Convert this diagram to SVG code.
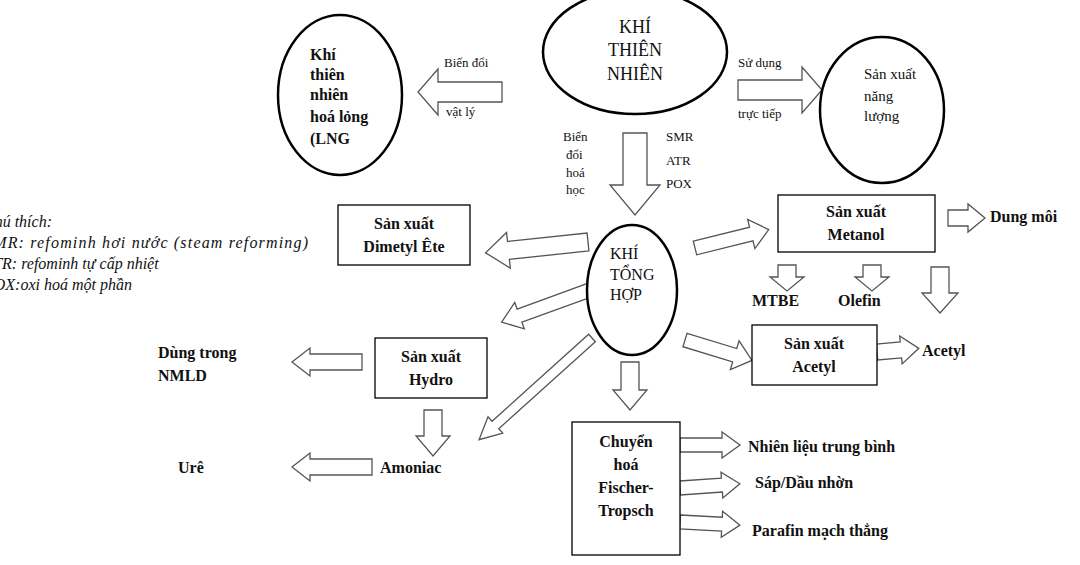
<svg xmlns="http://www.w3.org/2000/svg" width="1080" height="565" viewBox="0 0 1080 565">
<style>
.n{fill:#fff;stroke:#000;stroke-width:2.5}
.b{fill:#fff;stroke:#000;stroke-width:1.3}
.a{fill:#fff;stroke:#555;stroke-width:1.3}
text{font-family:"Liberation Serif","DejaVu Serif",serif;fill:#111}
.t{font-size:16px;font-weight:bold}
.s{font-size:13px}
.i{font-size:16px;font-style:italic}
</style>
<rect width="1080" height="565" fill="#fff"/>
<g id="connectors">
<polygon class="a" transform="translate(502,92) rotate(180)" points="0,-10 64,-10 64,-23 84,0 64,23 64,10 0,10"/>
<polygon class="a" transform="translate(738,90)" points="0,-10 64,-10 64,-23 84,0 64,23 64,10 0,10"/>
<polygon class="a" transform="translate(635,133) rotate(90)" points="0,-12 52,-12 52,-25 82,0 52,25 52,12 0,12"/>
<polygon class="a" transform="translate(588,242) rotate(174)" points="0,-9 80,-9 80,-18 103,0 80,18 80,9 0,9"/>
<polygon class="a" transform="translate(695,248) rotate(-14)" points="0,-7 58,-7 58,-15 76,0 58,15 58,7 0,7"/>
<polygon class="a" transform="translate(590,290) rotate(160)" points="0,-7 75,-7 75,-14 94,0 75,14 75,7 0,7"/>
<polygon class="a" transform="translate(685,340) rotate(17)" points="0,-7 52,-7 52,-15 70,0 52,15 52,7 0,7"/>
<polygon class="a" transform="translate(630,362) rotate(90)" points="0,-9 28,-9 28,-17 48,0 28,17 28,9 0,9"/>
<polygon class="a" transform="translate(592,338) rotate(138)" points="0,-5 130,-5 130,-11 152,0 130,11 130,5 0,5"/>
<polygon class="a" transform="translate(948,218)" points="0,-8 20,-8 20,-14 37,0 20,14 20,8 0,8"/>
<polygon class="a" transform="translate(787,265) rotate(90)" points="0,-9 12,-9 12,-17 26,0 12,17 12,9 0,9"/>
<polygon class="a" transform="translate(872,265) rotate(90)" points="0,-9 12,-9 12,-17 26,0 12,17 12,9 0,9"/>
<polygon class="a" transform="translate(940,267) rotate(90)" points="0,-9 26,-9 26,-18 46,0 26,18 26,9 0,9"/>
<polygon class="a" transform="translate(877,352) rotate(-5)" points="0,-8 24,-8 24,-14 42,0 24,14 24,8 0,8"/>
<polygon class="a" transform="translate(362,362) rotate(180)" points="0,-8 52,-8 52,-14 70,0 52,14 52,8 0,8"/>
<polygon class="a" transform="translate(433,410) rotate(90)" points="0,-9 26,-9 26,-17 46,0 26,17 26,9 0,9"/>
<polygon class="a" transform="translate(372,467) rotate(180)" points="0,-8 62,-8 62,-14 80,0 62,14 62,8 0,8"/>
<polygon class="a" transform="translate(680,445)" points="0,-7 42,-7 42,-13 60,0 42,13 42,7 0,7"/>
<polygon class="a" transform="translate(680,488) rotate(-4)" points="0,-7 42,-7 42,-13 60,0 42,13 42,7 0,7"/>
<polygon class="a" transform="translate(680,522) rotate(3)" points="0,-7 42,-7 42,-13 60,0 42,13 42,7 0,7"/>
<text class="s" x="444" y="67">Biến đổi</text>
<text class="s" x="446" y="116">vật lý</text>
<text class="s" x="738" y="67">Sử dụng</text>
<text class="s" x="738" y="118">trực tiếp</text>
<text class="s" x="563" y="141">Biến</text>
<text class="s" x="566" y="159">đổi</text>
<text class="s" x="566" y="177">hoá</text>
<text class="s" x="566" y="194">học</text>
<text class="s" x="666" y="141">SMR</text>
<text class="s" x="666" y="165">ATR</text>
<text class="s" x="666" y="188">POX</text>
</g>
<g id="ktn"><ellipse class="n" cx="635" cy="52" rx="92" ry="62"/>
<text x="635" y="33" text-anchor="middle" font-size="18">KHÍ</text>
<text x="635" y="56" text-anchor="middle" font-size="18">THIÊN</text>
<text x="635" y="80" text-anchor="middle" font-size="18">NHIÊN</text></g>
<g id="lng"><ellipse class="n" cx="340" cy="95" rx="62" ry="80"/>
<text class="t" x="310" y="60">Khí</text><text class="t" x="310" y="80">thiên</text><text class="t" x="310" y="100">nhiên</text><text class="t" x="310" y="122">hoá lỏng</text><text class="t" x="310" y="144">(LNG</text></g>
<g id="nl"><ellipse class="n" cx="882" cy="110" rx="62" ry="73"/>
<text x="864" y="79" font-size="15">Sản xuất</text><text x="864" y="101" font-size="15">năng</text><text x="864" y="121" font-size="15">lượng</text></g>
<g id="kth"><ellipse class="n" cx="632" cy="290" rx="45" ry="65"/>
<text x="610" y="259" font-size="16">KHÍ</text><text x="610" y="280" font-size="16">TỔNG</text><text x="610" y="300" font-size="16">HỢP</text></g>
<g id="dme"><rect class="b" x="338" y="205" width="132" height="60"/>
<text class="t" x="404" y="229" text-anchor="middle">Sản xuất</text><text class="t" x="404" y="252" text-anchor="middle">Dimetyl Ête</text></g>
<g id="metanol"><rect class="b" x="778" y="195" width="157" height="57"/>
<text class="t" x="856" y="217" text-anchor="middle">Sản xuất</text><text class="t" x="856" y="240" text-anchor="middle">Metanol</text></g>
<g id="acetylbox"><rect class="b" x="752" y="325" width="125" height="60"/>
<text class="t" x="814" y="349" text-anchor="middle">Sản xuất</text><text class="t" x="814" y="372" text-anchor="middle">Acetyl</text></g>
<g id="hydro"><rect class="b" x="375" y="338" width="112" height="60"/>
<text class="t" x="431" y="362" text-anchor="middle">Sản xuất</text><text class="t" x="431" y="385" text-anchor="middle">Hydro</text></g>
<g id="ft"><rect class="b" x="572" y="422" width="108" height="133"/>
<text class="t" x="626" y="447" text-anchor="middle">Chuyển</text><text class="t" x="626" y="470" text-anchor="middle">hoá</text><text class="t" x="626" y="493" text-anchor="middle">Fischer-</text><text class="t" x="626" y="516" text-anchor="middle">Tropsch</text></g>
<g id="labels">
<text class="t" x="990" y="222">Dung môi</text>
<text class="t" x="752" y="306">MTBE</text>
<text class="t" x="838" y="306">Olefin</text>
<text class="t" x="922" y="356">Acetyl</text>
<text class="t" x="158" y="358">Dùng  trong</text>
<text class="t" x="158" y="381">NMLD</text>
<text class="t" x="178" y="473">Urê</text>
<text class="t" x="380" y="473">Amoniac</text>
<text class="t" x="748" y="452">Nhiên liệu trung bình</text>
<text class="t" x="755" y="488">Sáp/Dầu nhờn</text>
<text class="t" x="752" y="536">Parafin mạch thẳng</text>
<text class="i" x="-16" y="227">Chú thích:</text>
<text class="i" x="-16" y="248" textLength="324">SMR: refominh hơi nước (steam reforming)</text>
<text class="i" x="-16" y="269">ATR: refominh tự cấp nhiệt</text>
<text class="i" x="-16" y="290">POX:oxi hoá một phần</text>
</g>
</svg>
